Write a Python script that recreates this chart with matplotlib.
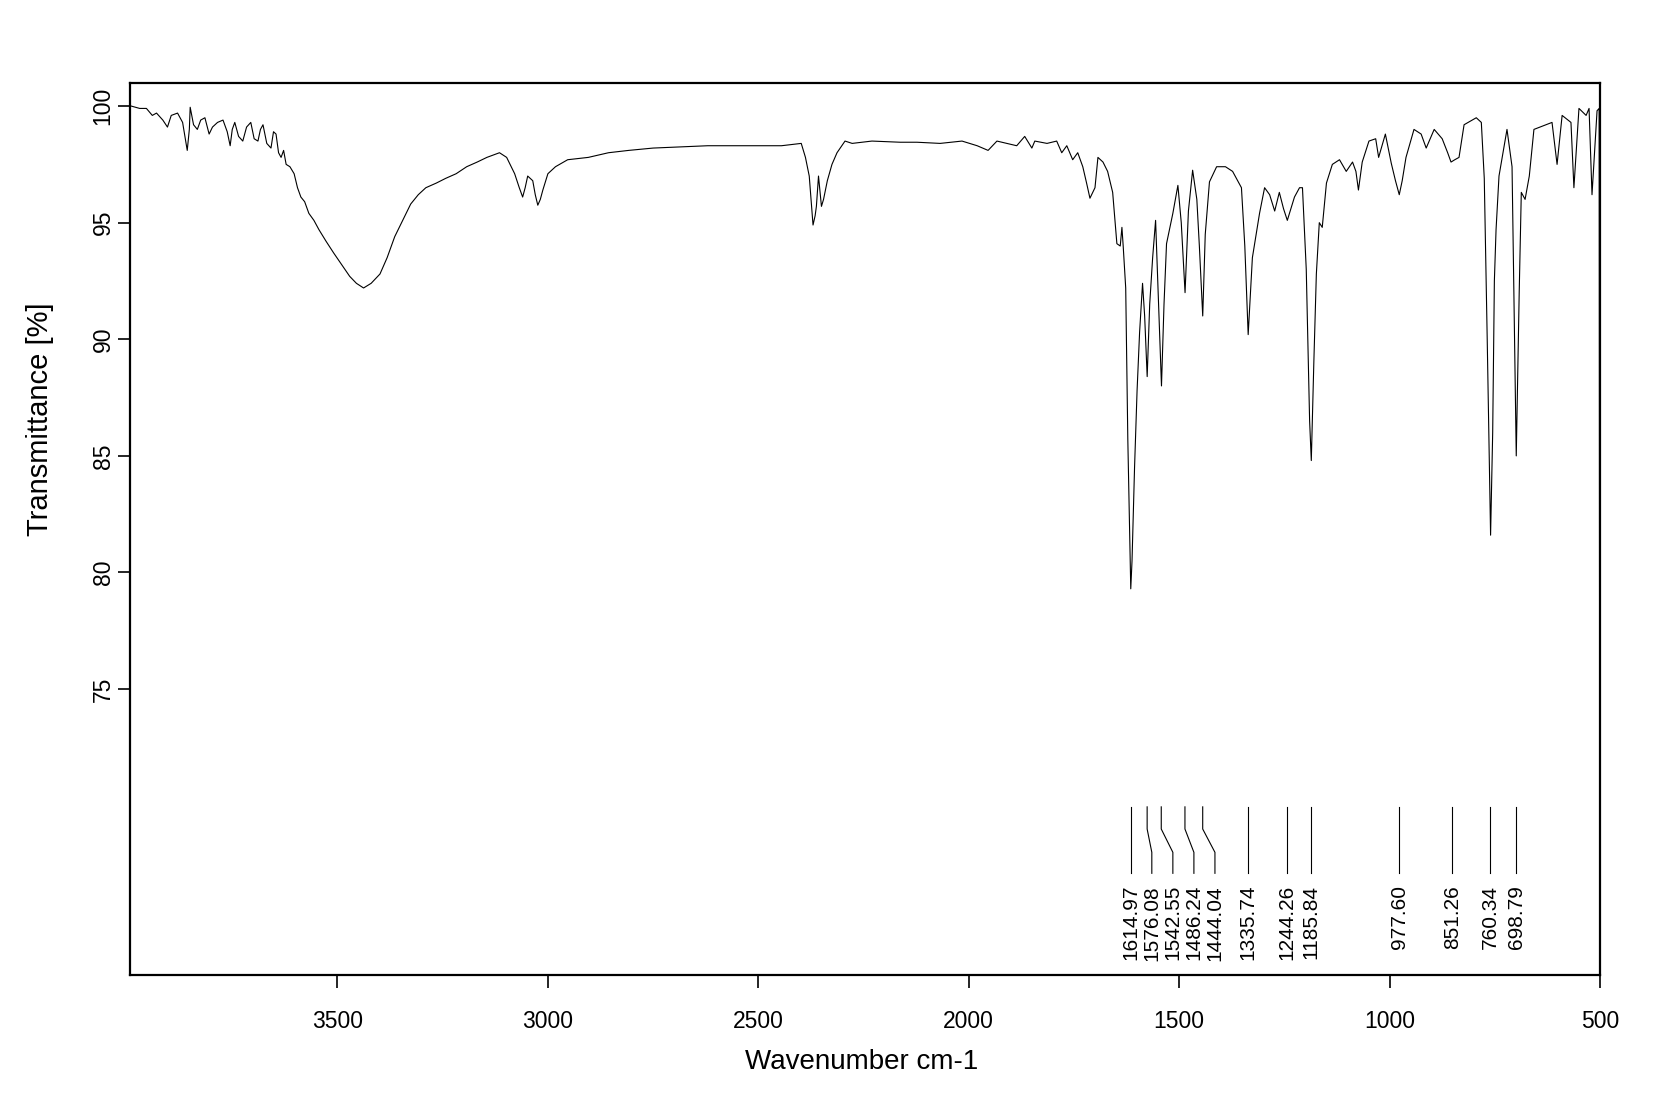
import numpy as np
import matplotlib.pyplot as plt

plt.rcParams['font.family'] = ['Liberation Sans', 'DejaVu Sans']

# spectrum: wavenumber (cm-1) and transmittance (%)
wavenumber = [
    3990, 3970, 3954, 3940, 3930, 3915, 3904, 3895, 3880, 3868, 3857, 3852, 3850, 3842, 3833,
    3825, 3815, 3805, 3797, 3785, 3772, 3762, 3755, 3750, 3744, 3735, 3725, 3716, 3706, 3698,
    3689, 3683, 3677, 3668, 3658, 3652, 3646, 3640, 3634, 3628, 3622, 3613, 3603, 3595, 3587,
    3578, 3568, 3556, 3544, 3527, 3509, 3490, 3471, 3455, 3438, 3420, 3399, 3382, 3364, 3345,
    3326, 3308, 3290, 3265, 3243, 3218, 3193, 3168, 3145, 3115, 3098, 3079, 3068, 3060, 3054,
    3048, 3036, 3030, 3024, 3018, 3012, 3000, 2982, 2953, 2904, 2856, 2808, 2750, 2687, 2620,
    2566, 2500, 2445, 2398, 2388, 2379, 2370, 2365, 2362, 2357, 2350, 2345, 2336, 2325, 2313,
    2294, 2277, 2230, 2163, 2123, 2068, 2016, 1980, 1954, 1933, 1886, 1867, 1850, 1843, 1814,
    1791, 1779, 1767, 1753, 1741, 1729, 1720, 1712, 1700, 1693, 1681, 1670, 1658, 1648, 1640,
    1636, 1633, 1627, 1622, 1615, 1612, 1606, 1600, 1594, 1587, 1582, 1576, 1570, 1563, 1556,
    1550, 1542, 1536, 1530, 1515, 1503, 1495, 1486, 1478, 1468, 1458, 1452, 1444, 1438, 1428,
    1411, 1390, 1373, 1352, 1344, 1336, 1326, 1309, 1297, 1285, 1273, 1262, 1252, 1243, 1226,
    1214, 1207, 1198, 1190, 1186, 1180, 1174, 1167, 1160, 1150, 1136, 1119, 1103, 1088, 1080,
    1074, 1065, 1049, 1033, 1026, 1010, 996, 986, 977, 970, 961, 942, 925, 913, 894,
    875, 862, 854, 845, 835, 823, 794, 782, 775, 768, 760, 755, 751, 747, 740,
    721, 709, 699, 692, 687, 678, 668, 657, 614, 602, 590, 569, 562, 550, 533,
    526, 519, 507, 502, 500,
]
transmittance = [
    100.0, 99.9, 99.9, 99.6, 99.7, 99.4, 99.1, 99.6, 99.7, 99.3, 98.1, 99.0, 99.95, 99.2, 99.0,
    99.4, 99.5, 98.8, 99.1, 99.3, 99.4, 98.9, 98.3, 99.0, 99.3, 98.7, 98.5, 99.1, 99.3, 98.6,
    98.5, 99.0, 99.2, 98.4, 98.2, 98.9, 98.8, 98.0, 97.8, 98.1, 97.5, 97.4, 97.1, 96.5, 96.1,
    95.9, 95.4, 95.1, 94.7, 94.2, 93.7, 93.2, 92.7, 92.4, 92.2, 92.4, 92.8, 93.5, 94.4, 95.1,
    95.8, 96.2, 96.5, 96.7, 96.9, 97.1, 97.4, 97.6, 97.8, 98.0, 97.8, 97.1, 96.5, 96.1, 96.5,
    97.0, 96.8, 96.2, 95.75, 96.0, 96.4, 97.1, 97.4, 97.7, 97.8, 98.0, 98.1, 98.2, 98.25, 98.3,
    98.3, 98.3, 98.3, 98.4, 97.8, 97.0, 94.9, 95.3, 95.7, 97.0, 95.7, 96.0, 96.8, 97.5, 98.0,
    98.5, 98.4, 98.5, 98.45, 98.45, 98.4, 98.5, 98.3, 98.1, 98.5, 98.3, 98.7, 98.2, 98.5, 98.4,
    98.5, 98.0, 98.3, 97.7, 98.0, 97.4, 96.7, 96.05, 96.5, 97.8, 97.6, 97.2, 96.3, 94.1, 94.0,
    94.8, 94.0, 92.2, 85.7, 79.3, 80.5, 84.5, 87.8, 90.3, 92.4, 91.0, 88.4, 91.5, 93.5, 95.1,
    92.0, 88.0, 91.5, 94.1, 95.4, 96.6, 95.0, 92.0, 95.5, 97.25, 96.0, 94.0, 91.0, 94.5, 96.75,
    97.4, 97.4, 97.2, 96.5, 94.0, 90.2, 93.5, 95.4, 96.5, 96.2, 95.5, 96.3, 95.6, 95.1, 96.1,
    96.5, 96.5, 93.0, 86.5, 84.8, 89.0, 92.8, 95.0, 94.8, 96.7, 97.5, 97.7, 97.2, 97.6, 97.2,
    96.4, 97.6, 98.5, 98.6, 97.8, 98.8, 97.55, 96.8, 96.2, 96.8, 97.8, 99.0, 98.8, 98.2, 99.0,
    98.6, 98.0, 97.6, 97.7, 97.8, 99.2, 99.5, 99.3, 96.9, 90.0, 81.6, 86.0, 92.5, 94.7, 97.0,
    99.0, 97.4, 85.0, 92.0, 96.3, 96.0, 97.0, 99.0, 99.3, 97.5, 99.6, 99.3, 96.5, 99.9, 99.6,
    99.9, 96.2, 99.8, 99.9, 55.0,
]

# picked peaks
peaks = [1614.97, 1576.08, 1542.55, 1486.24, 1444.04, 1335.74, 1244.26, 1185.84,
         977.60, 851.26, 760.34, 698.79]

fig = plt.figure(figsize=(16.63, 11.09), dpi=100)
ax = fig.add_axes([130 / 1663, 1 - 975 / 1109, 1470 / 1663, 892 / 1109])

ax.plot(wavenumber, transmittance, color='black', linewidth=0.8)

ax.set_xlim(3993, 500)
ax.set_ylim(62.74, 100.99)
ax.set_xticks([3500, 3000, 2500, 2000, 1500, 1000, 500])
ax.set_yticks([75, 80, 85, 90, 95, 100])
ax.tick_params(axis='x', length=9, width=1.2, pad=16, labelsize=16.5)
ax.tick_params(axis='y', length=9, width=1.2, pad=2, labelsize=16.5)
for lab in ax.get_yticklabels():
    lab.set_rotation(90)
    lab.set_va('center')
for s in ax.spines.values():
    s.set_linewidth(1.6)

# peak labels, pushed apart when they would overlap
gap = 50
pos = []
for p in peaks:
    if pos:
        pos.append(min(p, pos[-1] - gap))
    else:
        pos.append(p)

for p, x in zip(peaks, pos):
    ax.plot([p, p, x, x], [69.95, 69.0, 68.0, 67.1], color='black', linewidth=0.8)
    ax.text(x, 66.6, '%.2f' % p, rotation=90, ha='center', va='top', fontsize=15)

fig.text(40 / 1663, 1 - 419 / 1109, 'Transmittance [%]', rotation=90,
         ha='center', va='center', fontsize=21)
fig.text(862 / 1663, 1 - 1062 / 1109, 'Wavenumber cm-1', ha='center', va='center', fontsize=20)

fig.savefig('out.png', dpi=100)
